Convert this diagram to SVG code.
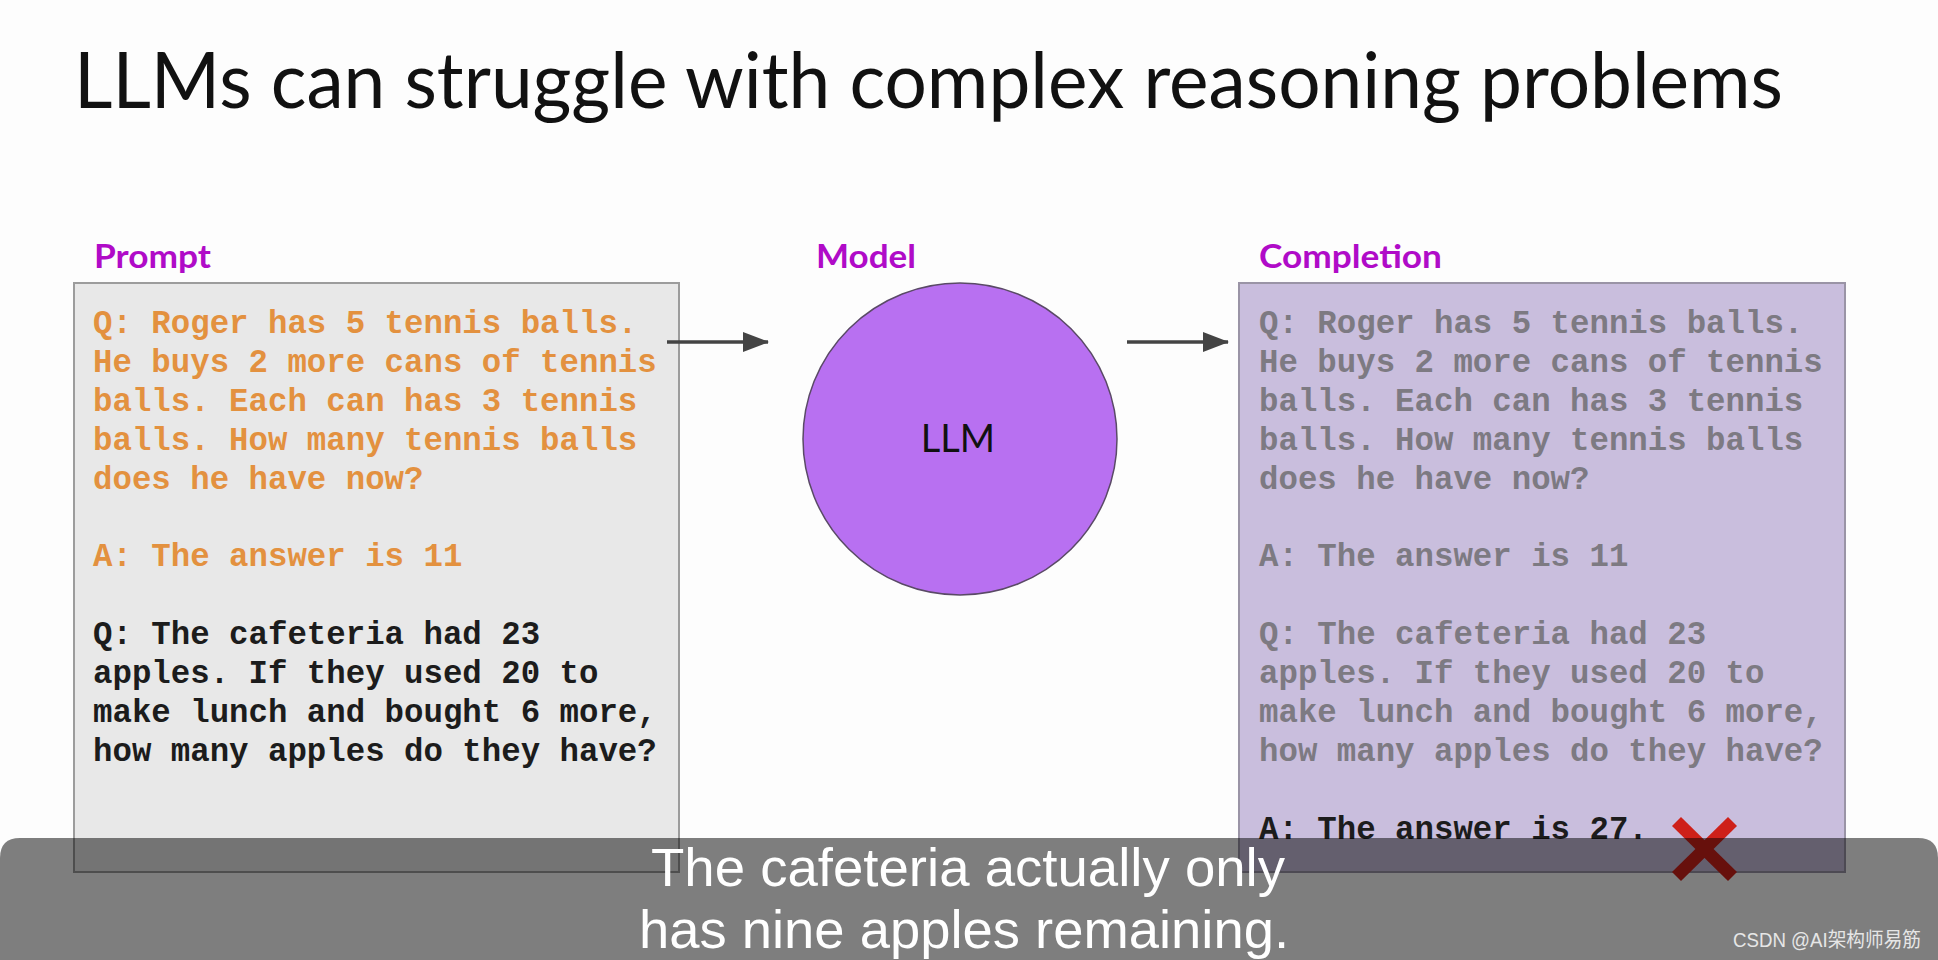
<svg xmlns="http://www.w3.org/2000/svg" width="1938" height="960" viewBox="0 0 1938 960">
<defs>
<style>
.title{font-family:Lato,"Open Sans",sans-serif;font-size:78px;fill:#111}
.label{font-family:Lato,"Open Sans",sans-serif;font-weight:bold;font-size:32px;fill:#B00BC8}
.mono{font-family:"Liberation Mono","Courier New",monospace;font-weight:bold;font-size:32.4px}
.orange{fill:#E3913F}
.dark{fill:#1c1c1c}
.gray{fill:#7d7a82}
.conn{stroke:#444;stroke-width:3.5;fill:none}
.sub{font-family:"Liberation Sans",Arial,sans-serif;font-size:54px;fill:#fff;text-anchor:middle}
</style>
<marker id="ah" markerWidth="26" markerHeight="20" refX="25" refY="10" orient="auto" markerUnits="userSpaceOnUse" viewBox="0 0 26 20">
<path d="M0,0 L26,10 L0,20 Z" fill="#444"/>
</marker>
</defs>
<rect width="1938" height="960" fill="#FDFDFD"/>
<text class="title" x="74" y="108" textLength="1709" lengthAdjust="spacingAndGlyphs">LLMs can struggle with complex reasoning problems</text>

<g id="prompt">
<text class="label" x="94" y="268" textLength="117" lengthAdjust="spacingAndGlyphs">Prompt</text>
<rect x="74" y="283" width="605" height="589" fill="#E8E8E8" stroke="#9c9c9c" stroke-width="2"/>
<g class="mono">
<text class="orange" x="93" y="333">Q: Roger has 5 tennis balls.</text>
<text class="orange" x="93" y="372">He buys 2 more cans of tennis</text>
<text class="orange" x="93" y="411">balls. Each can has 3 tennis</text>
<text class="orange" x="93" y="450">balls. How many tennis balls</text>
<text class="orange" x="93" y="489">does he have now?</text>
<text class="orange" x="93" y="566">A: The answer is 11</text>
<text class="dark" x="93" y="644">Q: The cafeteria had 23</text>
<text class="dark" x="93" y="683">apples. If they used 20 to</text>
<text class="dark" x="93" y="722">make lunch and bought 6 more,</text>
<text class="dark" x="93" y="761">how many apples do they have?</text>
</g>
</g>

<g id="model">
<text class="label" x="816" y="268" textLength="100" lengthAdjust="spacingAndGlyphs">Model</text>
<ellipse cx="960" cy="439" rx="157" ry="156" fill="#B870F1" stroke="#5a4a66" stroke-width="1.5"/>
<text x="958" y="452" text-anchor="middle" font-family="Lato,'Open Sans',sans-serif" font-size="38" fill="#111">LLM</text>
</g>

<g id="completion">
<text class="label" x="1259" y="268" textLength="183" lengthAdjust="spacingAndGlyphs">Completion</text>
<rect x="1239" y="283" width="606" height="589" fill="#C9BEDD" stroke="#9a94a6" stroke-width="2"/>
<g class="mono">
<text class="gray" x="1259" y="333">Q: Roger has 5 tennis balls.</text>
<text class="gray" x="1259" y="372">He buys 2 more cans of tennis</text>
<text class="gray" x="1259" y="411">balls. Each can has 3 tennis</text>
<text class="gray" x="1259" y="450">balls. How many tennis balls</text>
<text class="gray" x="1259" y="489">does he have now?</text>
<text class="gray" x="1259" y="566">A: The answer is 11</text>
<text class="gray" x="1259" y="644">Q: The cafeteria had 23</text>
<text class="gray" x="1259" y="683">apples. If they used 20 to</text>
<text class="gray" x="1259" y="722">make lunch and bought 6 more,</text>
<text class="gray" x="1259" y="761">how many apples do they have?</text>
<text class="dark" x="1259" y="839">A: The answer is 27.</text>
</g>
<g id="cross" fill="#CE2019">
<polygon points="1672,826 1681,817 1737,872 1728,881"/>
<polygon points="1728,817 1737,826 1681,881 1672,872"/>
</g>
</g>

<g id="connectors">
<line class="conn" x1="667" y1="342" x2="768" y2="342" marker-end="url(#ah)"/>
<line class="conn" x1="1127" y1="342" x2="1228" y2="342" marker-end="url(#ah)"/>
</g>

<g id="subtitle">
<path d="M0,858 Q0,838 20,838 L1918,838 Q1938,838 1938,858 L1938,960 L0,960 Z" fill="#000" fill-opacity="0.5"/>
<text class="sub" x="968" y="886" textLength="634" lengthAdjust="spacingAndGlyphs">The cafeteria actually only</text>
<text class="sub" x="964" y="948" textLength="650" lengthAdjust="spacingAndGlyphs">has nine apples remaining.</text>
<text x="1733" y="947" font-family="'Liberation Sans','Noto Sans CJK SC',sans-serif" font-size="20" fill="#e6e6e6" textLength="188" lengthAdjust="spacingAndGlyphs">CSDN @AI架构师易筋</text>
</g>
</svg>
